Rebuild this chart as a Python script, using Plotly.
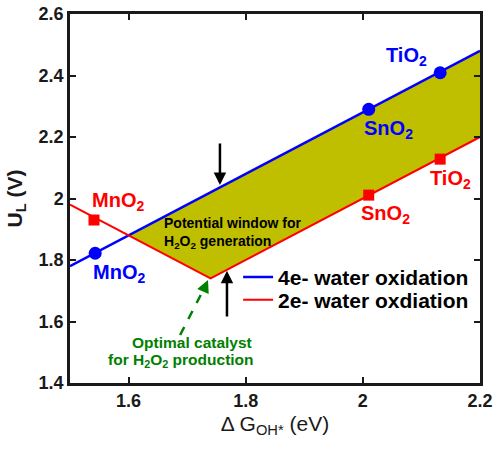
import plotly.graph_objects as go

# ---- data ----
line_x = [1.5, 2.2]
line4e_y = [1.78, 2.48]
line2e_x = [1.5, 1.74, 2.2]
line2e_y = [1.98, 1.74, 2.2]
window_x = [1.6, 2.2, 2.2, 1.74, 1.6]
window_y = [1.88, 2.48, 2.2, 1.74, 1.88]
cat4e_x = [1.543, 2.01, 2.132]
cat4e_y = [1.822, 2.29, 2.409]
cat2e_x = [1.541, 2.01, 2.132]
cat2e_y = [1.93, 2.011, 2.128]
catalysts = ["MnO<sub>2</sub>", "SnO<sub>2</sub>", "TiO<sub>2</sub>"]
lab4e_pos = [(1.584, 1.757), (2.043, 2.224), (2.075, 2.462)]
lab2e_pos = [(1.582, 1.99), (2.038, 1.948), (2.149, 2.062)]
x_ticks = [1.6, 1.8, 2.0, 2.2]
x_ticktext = ["1.6", "1.8", "2", "2.2"]
y_ticks = [1.4, 1.6, 1.8, 2.0, 2.2, 2.4, 2.6]
y_ticktext = ["1.4", "1.6", "1.8", "2", "2.2", "2.4", "2.6"]

FONT = "Liberation Sans, Arial, sans-serif"
BLUE = "#0000ff"
RED = "#ff0000"
OLIVE = "#bfbf00"
GREEN = "#008000"
DARK = "#1a1a1a"

fig = go.Figure()
fig.add_trace(go.Scatter(x=window_x, y=window_y, fill="toself", fillcolor=OLIVE,
                         line=dict(width=0), mode="lines", showlegend=False, hoverinfo="skip"))
fig.add_trace(go.Scatter(x=line_x, y=line4e_y, mode="lines", line=dict(color=BLUE, width=2.5),
                         name="4e- water oxidation", legend="legend"))
fig.add_trace(go.Scatter(x=line2e_x, y=line2e_y, mode="lines", line=dict(color=RED, width=2),
                         name="2e- water oxdiation", legend="legend2"))
fig.add_trace(go.Scatter(x=cat4e_x, y=cat4e_y, mode="markers",
                         marker=dict(color=BLUE, size=13, symbol="circle"), showlegend=False))
fig.add_trace(go.Scatter(x=cat2e_x, y=cat2e_y, mode="markers",
                         marker=dict(color=RED, size=11, symbol="square"), showlegend=False))

ann = []
for name, (lx, ly) in zip(catalysts, lab4e_pos):
    ann.append(dict(x=lx, y=ly, text=name, showarrow=False,
                    font=dict(family=FONT, size=20, color=BLUE, weight="bold")))
for name, (lx, ly) in zip(catalysts, lab2e_pos):
    ann.append(dict(x=lx, y=ly, text=name, showarrow=False,
                    font=dict(family=FONT, size=20, color=RED, weight="bold")))

ann.append(dict(x=1.657, y=1.888, xanchor="left", yanchor="middle", align="left",
                text="Potential window for<br>H<sub>2</sub>O<sub>2</sub> generation", showarrow=False,
                font=dict(family=FONT, size=14, color="black", weight="bold")))
ann.append(dict(x=1.708, y=1.533, text="Optimal catalyst", showarrow=False,
                font=dict(family=FONT, size=15.5, color=GREEN, weight="bold")))
ann.append(dict(x=1.69, y=1.474, text="for H<sub>2</sub>O<sub>2</sub> production", showarrow=False,
                font=dict(family=FONT, size=15.5, color=GREEN, weight="bold")))
# black arrows
ann.append(dict(x=1.756, y=2.044, ax=1.756, ay=2.184, xref="x", yref="y", axref="x", ayref="y",
                showarrow=True, arrowhead=2, arrowsize=1, arrowwidth=2.5, arrowcolor="black", text=""))
ann.append(dict(x=1.768, y=1.765, ax=1.768, ay=1.611, xref="x", yref="y", axref="x", ayref="y",
                showarrow=True, arrowhead=2, arrowsize=1, arrowwidth=2.5, arrowcolor="black", text=""))
# green arrowhead
ann.append(dict(x=1.7356, y=1.735, ax=1.731, ay=1.715, xref="x", yref="y", axref="x", ayref="y",
                showarrow=True, arrowhead=2, arrowsize=1, arrowwidth=2.5, arrowcolor=GREEN, text=""))

fig.add_shape(type="line", x0=1.688, y0=1.556, x1=1.731, y1=1.715,
              line=dict(color=GREEN, width=2.5, dash="dash"))

axis_common = dict(showline=True, linecolor=DARK, linewidth=2.5, mirror="ticks",
                   ticks="inside", ticklen=6, tickwidth=2, tickcolor=DARK,
                   showgrid=False, zeroline=False, automargin=False,
                   ticklabeloverflow="allow",
                   tickfont=dict(family=FONT, size=18, color=DARK, weight="bold"))

legend_common = dict(xanchor="left", yanchor="top", bgcolor="rgba(0,0,0,0)",
                     font=dict(family=FONT, size=21, color="black", weight="bold"),
                     tracegroupgap=0, itemwidth=30)

fig.update_layout(
    width=500, height=449,
    margin=dict(l=70, r=20, t=14, b=66, autoexpand=False),
    plot_bgcolor="white", paper_bgcolor="white",
    annotations=ann,
    xaxis=dict(range=[1.5, 2.2], tickvals=x_ticks, ticktext=x_ticktext,
               title=dict(text="Δ G<sub>OH*</sub> (eV)", standoff=6,
                          font=dict(family=FONT, size=21, color=DARK)), **axis_common),
    yaxis=dict(range=[1.4, 2.6], tickvals=y_ticks, ticktext=y_ticktext,
               title=dict(text="U<sub>L</sub> (V)", standoff=11,
                          font=dict(family=FONT, size=21, color=DARK, weight="bold")), **axis_common),
    legend=dict(x=0.41, y=0.342, **legend_common),
    legend2=dict(x=0.41, y=0.28, **legend_common),
    showlegend=True,
)

fig.write_html("out.html", config={"displayModeBar": False},
               post_script="document.body.style.margin='0';")
